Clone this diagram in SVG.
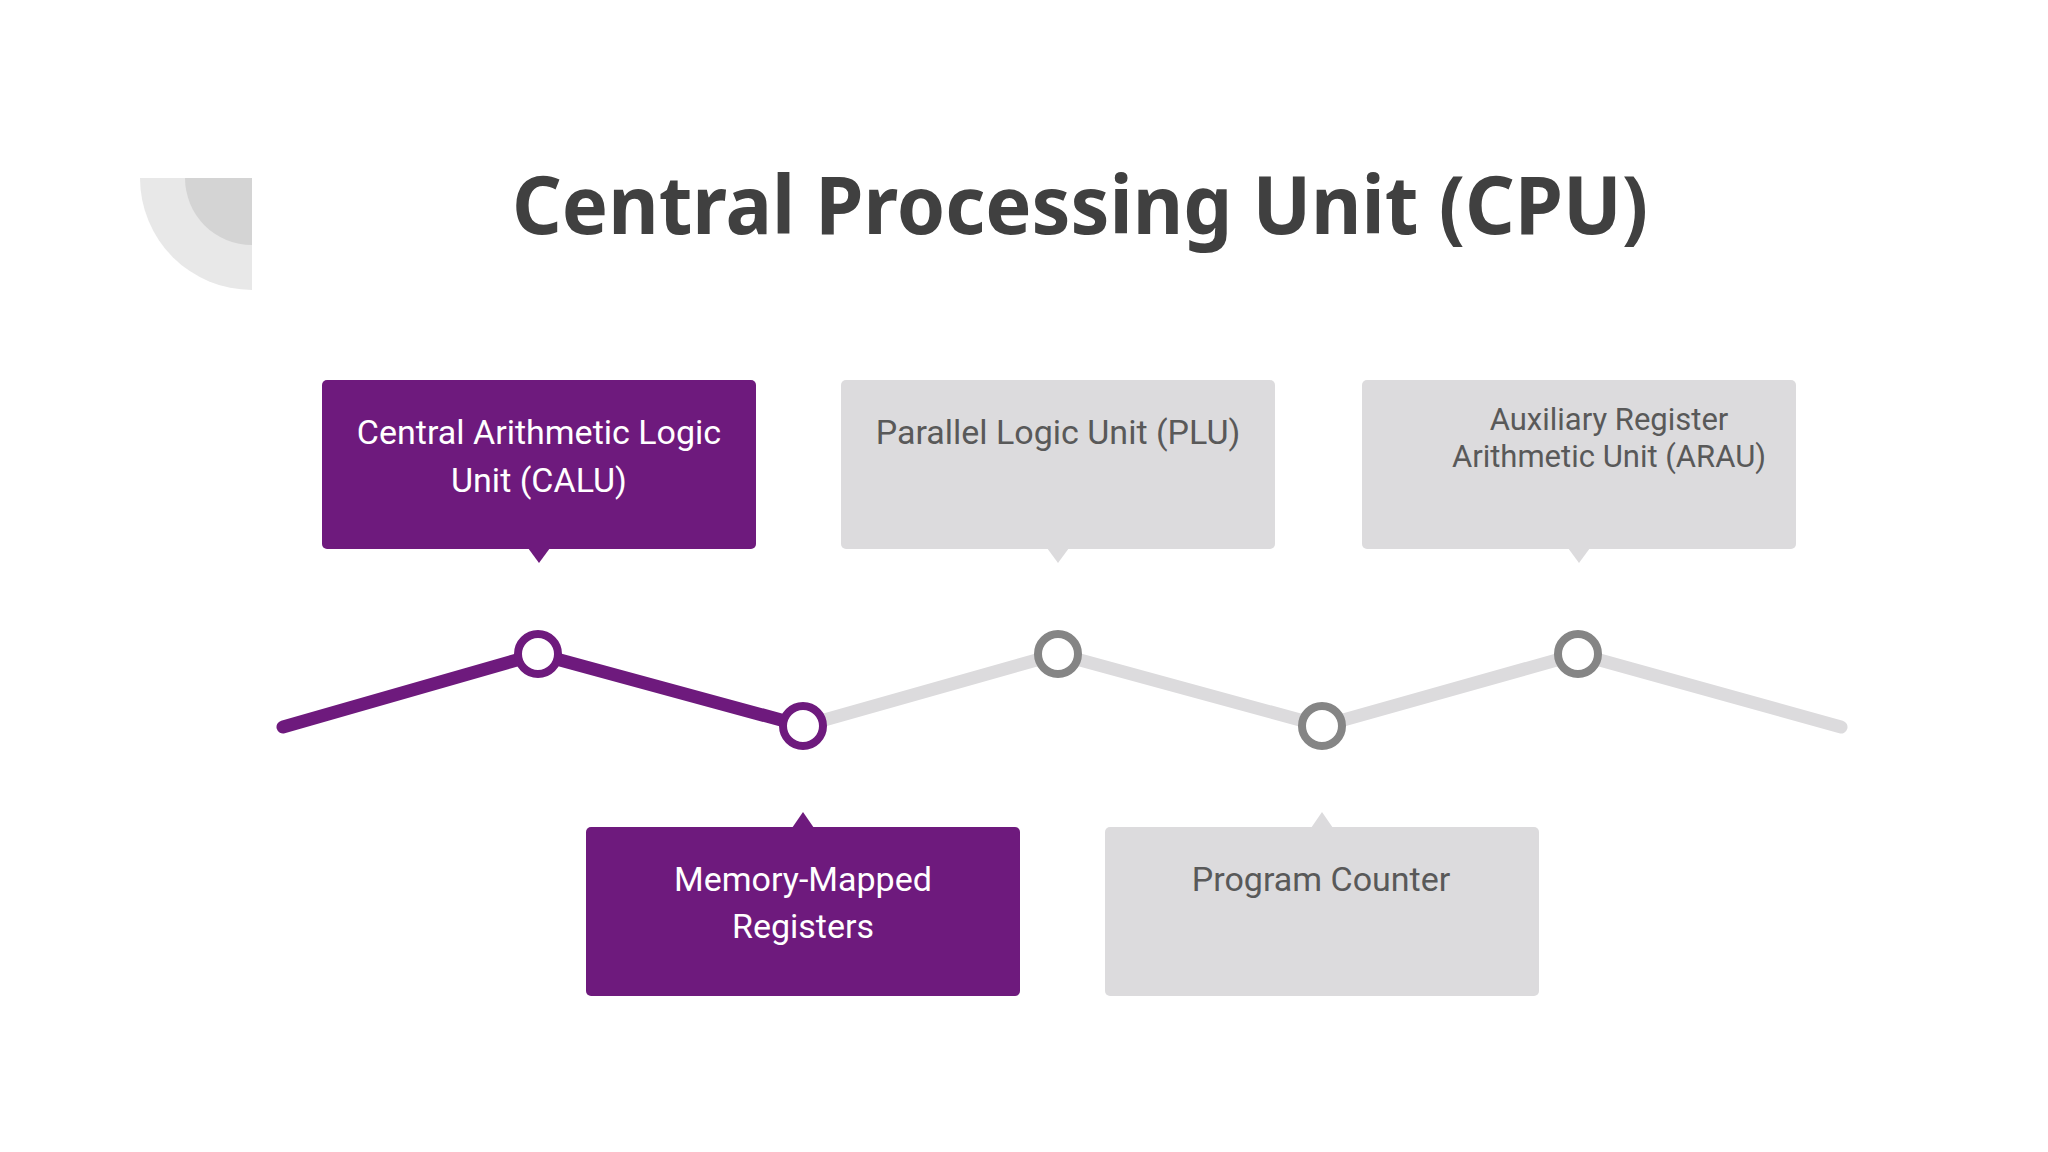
<svg xmlns="http://www.w3.org/2000/svg" width="2048" height="1152" viewBox="0 0 2048 1152">
  <style>
    .purple { fill: #6e1a7d; }
    .gray { fill: #dcdbdd; }
    .t { font-family: Roboto, "Liberation Sans", sans-serif; font-size: 34px; text-anchor: middle; }
    .ts { font-size: 31px; }
    .tw { fill: #ffffff; }
    .tg { fill: #595959; }
    .lp { stroke: #6e1a7d; stroke-width: 13; stroke-linecap: round; fill: none; }
    .lg { stroke: #dcdbdd; stroke-width: 13; stroke-linecap: round; fill: none; }
    .np { fill: #ffffff; stroke: #6e1a7d; stroke-width: 8; }
    .ng { fill: #ffffff; stroke: #858585; stroke-width: 8; }
  </style>
  <rect width="2048" height="1152" fill="#ffffff"/>

  <g id="decoration">
    <path d="M252,178 L140,178 A112,112 0 0 0 252,290 Z" fill="#e8e8e8"/>
    <path d="M252,178 L185,178 A67,67 0 0 0 252,245 Z" fill="#d4d4d4"/>
  </g>

  <text id="title" x="1080" y="234" font-family="'Noto Sans', 'DejaVu Sans', sans-serif" font-weight="bold" font-size="80" fill="#404040" text-anchor="middle" textLength="1136" lengthAdjust="spacingAndGlyphs">Central Processing Unit (CPU)</text>

  <g id="connectors">
    <polyline class="lg" points="803,726 1058,654 1322,726 1578,654 1841,727"/>
    <polyline class="lp" points="283,727 538,654 803,726"/>
  </g>

  <g id="node-calu">
    <rect class="purple" x="322" y="380" width="434" height="169" rx="5"/>
    <polygon class="purple" points="528,548 550,548 539,563"/>
    <text class="t tw" x="539" y="444">Central Arithmetic Logic</text>
    <text class="t tw" x="539" y="492">Unit (CALU)</text>
    <circle class="np" cx="538" cy="654" r="20"/>
  </g>

  <g id="node-plu">
    <rect class="gray" x="841" y="380" width="434" height="169" rx="5"/>
    <polygon class="gray" points="1047,548 1069,548 1058,563"/>
    <text class="t tg" x="1058" y="444">Parallel Logic Unit (PLU)</text>
    <circle class="ng" cx="1058" cy="654" r="20"/>
  </g>

  <g id="node-arau">
    <rect class="gray" x="1362" y="380" width="434" height="169" rx="5"/>
    <polygon class="gray" points="1568,548 1590,548 1579,563"/>
    <text class="t ts tg" x="1609" y="430">Auxiliary Register</text>
    <text class="t ts tg" x="1609" y="467">Arithmetic Unit (ARAU)</text>
    <circle class="ng" cx="1578" cy="654" r="20"/>
  </g>

  <g id="node-mmr">
    <rect class="purple" x="586" y="827" width="434" height="169" rx="5"/>
    <polygon class="purple" points="792,828 814,828 803,812"/>
    <text class="t tw" x="803" y="891">Memory-Mapped</text>
    <text class="t tw" x="803" y="938">Registers</text>
    <circle class="np" cx="803" cy="726" r="20"/>
  </g>

  <g id="node-pc">
    <rect class="gray" x="1105" y="827" width="434" height="169" rx="5"/>
    <polygon class="gray" points="1311,828 1333,828 1322,812"/>
    <text class="t tg" x="1321" y="891">Program Counter</text>
    <circle class="ng" cx="1322" cy="726" r="20"/>
  </g>
</svg>
